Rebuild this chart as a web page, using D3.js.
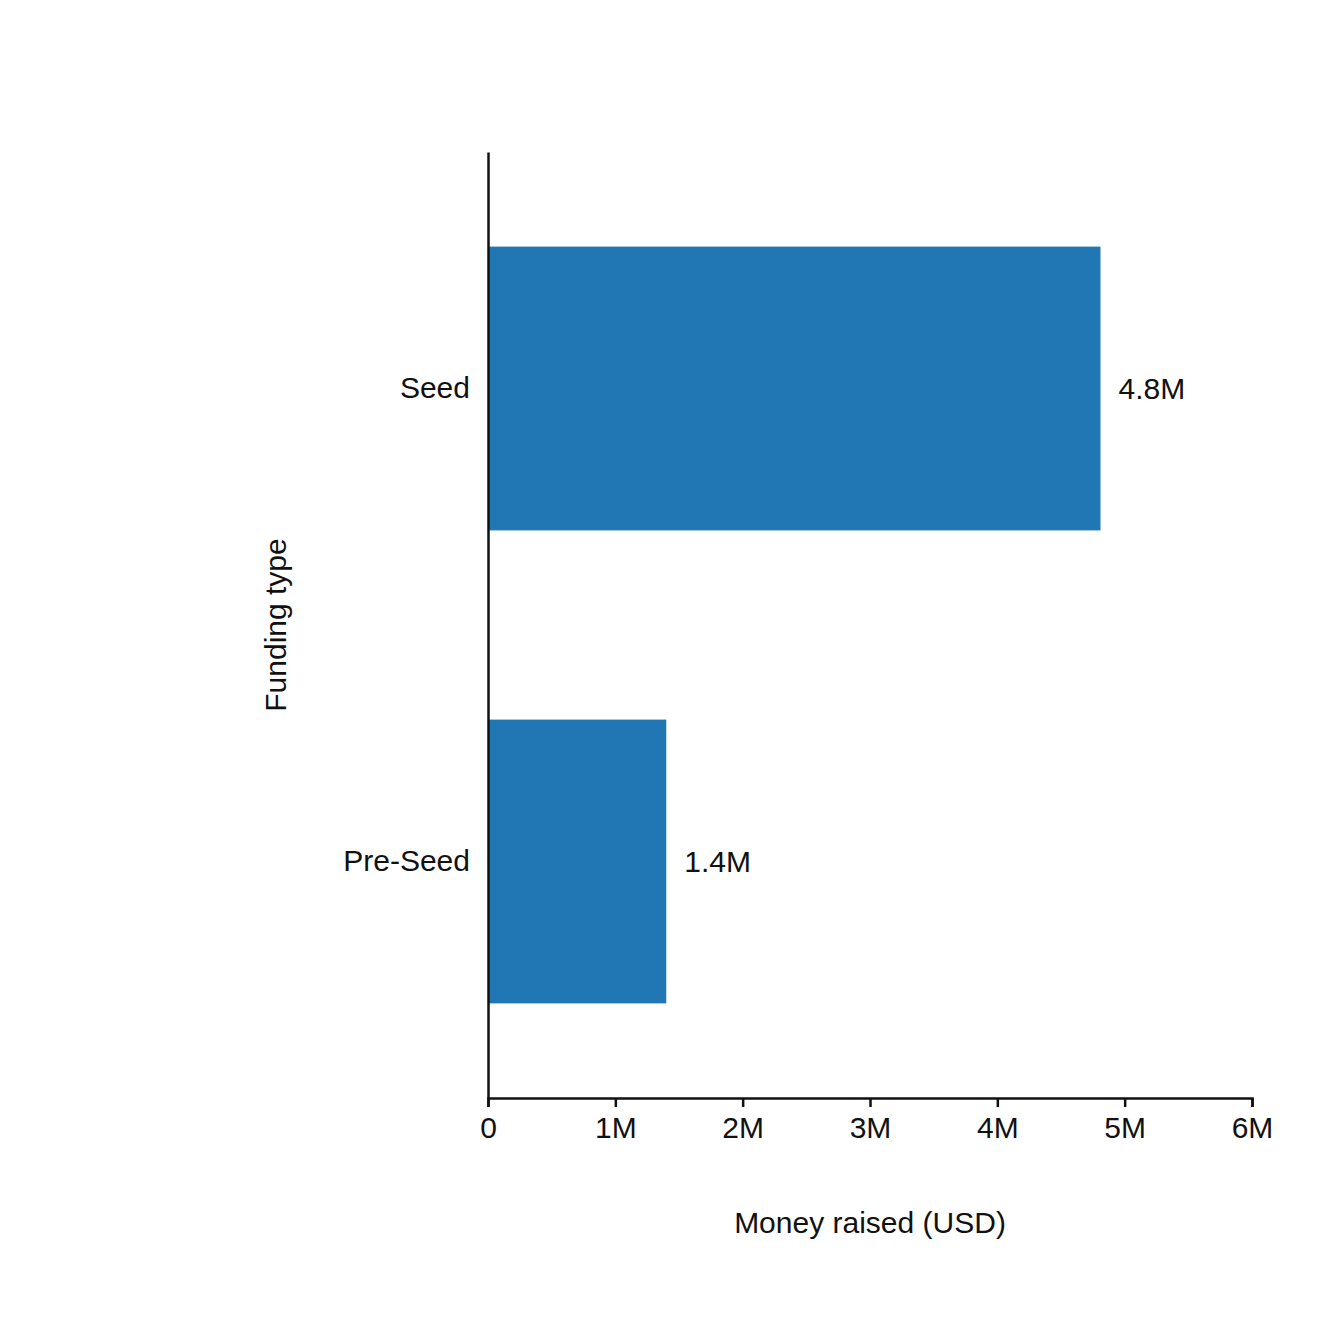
<!DOCTYPE html>
<html><head><meta charset="utf-8">
<script src="https://cdn.jsdelivr.net/npm/d3@7"></script>
<style>body{margin:0;background:#fff}svg{font-family:"Liberation Sans",Arial,sans-serif}</style>
</head><body><svg id="c" width="1320" height="1320"></svg>
<script>
const categories = ["Seed", "Pre-Seed"];
const values = [4.81e6, 1.40e6];
const valueLabels = ["4.8M", "1.4M"];
const tickValues = [0, 1e6, 2e6, 3e6, 4e6, 5e6, 6e6];
const tickLabels = ["0", "1M", "2M", "3M", "4M", "5M", "6M"];

const svg = d3.select("#c");
const L = 488, R = 1252, T = 152, B = 1098;
const x = d3.scaleLinear().domain([0, 6e6]).range([L, R]);
const y = d3.scaleBand().domain(categories).range([T, B]).paddingInner(0.4).paddingOuter(0.2);

svg.selectAll("rect.bar").data(categories).join("rect")
  .attr("x", x(0)).attr("y", d => y(d))
  .attr("width", (d, i) => x(values[i]) - x(0)).attr("height", y.bandwidth())
  .attr("fill", "#2077b4");

svg.selectAll("text.vl").data(categories).join("text")
  .attr("x", (d, i) => x(values[i]) + 18).attr("y", d => y(d) + y.bandwidth() / 2)
  .attr("dy", "0.35em").attr("font-size", 30).attr("fill", "#111")
  .text((d, i) => valueLabels[i]);

const xa = svg.append("g").attr("transform", `translate(0,${B})`)
  .call(d3.axisBottom(x).tickValues(tickValues).tickFormat((d, i) => tickLabels[i]).tickSizeOuter(0).tickSize(9).tickPadding(10));
xa.selectAll("text").attr("font-size", 30).attr("fill", "#111");
xa.selectAll("line,path").attr("stroke", "#111").attr("stroke-width", 2.5);

const ya = svg.append("g").attr("transform", `translate(${L},0)`)
  .call(d3.axisLeft(y).tickSize(0).tickSizeOuter(0).tickPadding(18));
ya.selectAll("text").attr("font-size", 30).attr("fill", "#111");
ya.select("path").attr("stroke", "#111").attr("stroke-width", 2.5);

svg.append("text").attr("x", (L + R) / 2).attr("y", 1233).attr("text-anchor", "middle")
  .attr("font-size", 30).attr("fill", "#111").text("Money raised (USD)");
svg.append("text").attr("transform", `translate(286,${(T + B) / 2}) rotate(-90)`)
  .attr("text-anchor", "middle").attr("font-size", 30).attr("fill", "#111").text("Funding type");
</script></body></html>
